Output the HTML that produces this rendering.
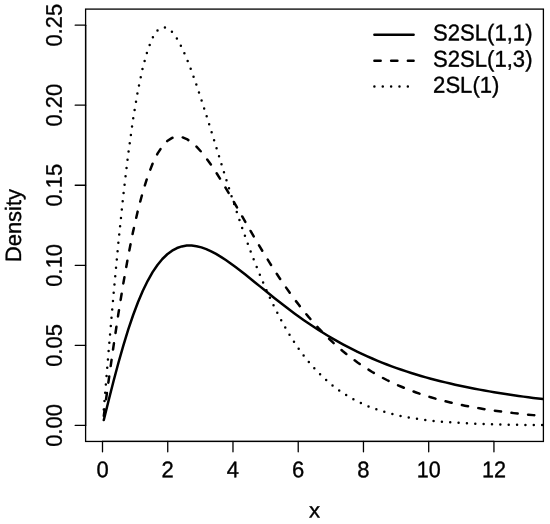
<!DOCTYPE html>
<html><head><meta charset="utf-8"><title>Density plot</title>
<style>html,body{margin:0;padding:0;background:#fff;overflow:hidden;}svg{display:block;} text{text-rendering:geometricPrecision;}</style>
</head><body>
<svg width="550" height="524" viewBox="0 0 550 524">
<rect x="0" y="0" width="550" height="524" fill="#fff"/>
<defs><clipPath id="pc"><rect x="85.6" y="9.1" width="457.80" height="432.35"/></clipPath></defs>
<g clip-path="url(#pc)" fill="none" stroke="#000" stroke-width="2.5" stroke-linecap="round" stroke-linejoin="round">
<polyline points="103.80,420.07 108.68,400.27 113.56,381.05 118.44,362.73 123.32,345.56 128.20,329.70 133.08,315.25 137.96,302.28 142.84,290.79 147.72,280.77 152.60,272.17 157.48,264.94 162.36,258.99 167.24,254.26 172.12,250.64 177.00,248.05 181.88,246.40 186.76,245.60 191.64,245.55 196.52,246.19 201.40,247.41 206.28,249.16 211.16,251.36 216.04,253.94 220.92,256.85 225.80,260.04 230.68,263.44 235.56,267.03 240.44,270.75 245.32,274.58 250.20,278.47 255.08,282.41 259.96,286.37 264.84,290.33 269.72,294.26 274.60,298.16 279.48,302.01 284.36,305.79 289.24,309.50 294.12,313.14 299.00,316.69 303.88,320.15 308.76,323.51 313.64,326.78 318.52,329.96 323.40,333.03 328.28,336.00 333.16,338.88 338.04,341.66 342.92,344.34 347.80,346.93 352.68,349.42 357.56,351.82 362.44,354.14 367.32,356.36 372.20,358.51 377.08,360.57 381.96,362.56 386.84,364.47 391.72,366.30 396.60,368.07 401.48,369.76 406.36,371.40 411.24,372.97 416.12,374.48 421.00,375.93 425.88,377.33 430.76,378.67 435.64,379.96 440.52,381.21 445.40,382.41 450.28,383.56 455.16,384.67 460.04,385.74 464.92,386.77 469.80,387.76 474.68,388.72 479.56,389.64 484.44,390.53 489.32,391.39 494.20,392.21 499.08,393.01 503.96,393.79 508.84,394.53 513.72,395.25 518.60,395.95 523.48,396.62 528.36,397.27 533.24,397.90 538.12,398.51 543.00,399.09 547.88,399.66 552.76,400.22 557.64,400.75 562.52,401.27 567.40,401.77 572.28,402.26 577.16,402.73 582.04,403.19 586.92,403.63 591.80,404.06"/>
<polyline points="103.80,415.80 108.68,380.23 113.56,345.87 118.44,313.41 123.32,283.35 128.20,256.03 133.08,231.62 137.96,210.21 142.84,191.80 147.72,176.33 152.60,163.68 157.48,153.69 162.36,146.19 167.24,140.98 172.12,137.86 177.00,136.63 181.88,137.09 186.76,139.04 191.64,142.29 196.52,146.66 201.40,152.00 206.28,158.14 211.16,164.95 216.04,172.29 220.92,180.05 225.80,188.13 230.68,196.43 235.56,204.87 240.44,213.37 245.32,221.88 250.20,230.34 255.08,238.71 259.96,246.94 264.84,255.00 269.72,262.87 274.60,270.53 279.48,277.95 284.36,285.13 289.24,292.05 294.12,298.71 299.00,305.11 303.88,311.24 308.76,317.12 313.64,322.72 318.52,328.08 323.40,333.18 328.28,338.03 333.16,342.65 338.04,347.04 342.92,351.20 347.80,355.15 352.68,358.89 357.56,362.43 362.44,365.78 367.32,368.96 372.20,371.96 377.08,374.79 381.96,377.47 386.84,380.00 391.72,382.39 396.60,384.64 401.48,386.77 406.36,388.78 411.24,390.68 416.12,392.47 421.00,394.15 425.88,395.75 430.76,397.25 435.64,398.67 440.52,400.01 445.40,401.27 450.28,402.46 455.16,403.59 460.04,404.65 464.92,405.66 469.80,406.60 474.68,407.50 479.56,408.35 484.44,409.15 489.32,409.90 494.20,410.62 499.08,411.30 503.96,411.94 508.84,412.54 513.72,413.12 518.60,413.66 523.48,414.18 528.36,414.67 533.24,415.13 538.12,415.57 543.00,415.99 547.88,416.38 552.76,416.76 557.64,417.11 562.52,417.45 567.40,417.78 572.28,418.08 577.16,418.37 582.04,418.65 586.92,418.92 591.80,419.17" stroke-dasharray="6.27 10.46"/>
<polyline points="103.80,409.40 108.68,350.34 113.56,294.03 118.44,241.97 123.32,195.13 128.20,154.11 133.08,119.15 137.96,90.27 142.84,67.30 147.72,49.94 152.60,37.79 157.48,30.39 162.36,27.26 167.24,27.91 172.12,31.84 177.00,38.58 181.88,47.68 186.76,58.72 191.64,71.31 196.52,85.11 201.40,99.80 206.28,115.11 211.16,130.79 216.04,146.63 220.92,162.46 225.80,178.12 230.68,193.49 235.56,208.46 240.44,222.95 245.32,236.91 250.20,250.28 255.08,263.03 259.96,275.14 264.84,286.59 269.72,297.39 274.60,307.55 279.48,317.06 284.36,325.96 289.24,334.25 294.12,341.97 299.00,349.13 303.88,355.76 308.76,361.89 313.64,367.54 318.52,372.75 323.40,377.54 328.28,381.94 333.16,385.97 338.04,389.66 342.92,393.04 347.80,396.12 352.68,398.93 357.56,401.49 362.44,403.82 367.32,405.93 372.20,407.86 377.08,409.60 381.96,411.18 386.84,412.61 391.72,413.90 396.60,415.07 401.48,416.13 406.36,417.08 411.24,417.94 416.12,418.72 421.00,419.41 425.88,420.04 430.76,420.60 435.64,421.11 440.52,421.57 445.40,421.97 450.28,422.34 455.16,422.67 460.04,422.96 464.92,423.23 469.80,423.46 474.68,423.67 479.56,423.86 484.44,424.03 489.32,424.18 494.20,424.31 499.08,424.43 503.96,424.54 508.84,424.64 513.72,424.72 518.60,424.80 523.48,424.87 528.36,424.93 533.24,424.98 538.12,425.03 543.00,425.07 547.88,425.11 552.76,425.14 557.64,425.17 562.52,425.20 567.40,425.22 572.28,425.24 577.16,425.26 582.04,425.27 586.92,425.29 591.80,425.30" stroke-dasharray="0 8.36"/>
</g>
<g fill="none" stroke="#000" stroke-width="1.3" stroke-linecap="round">
<rect x="85.6" y="9.1" width="457.80" height="432.35"/>

<line x1="102.50" y1="441.45" x2="102.50" y2="451.85"/>
<line x1="167.74" y1="441.45" x2="167.74" y2="451.85"/>
<line x1="232.98" y1="441.45" x2="232.98" y2="451.85"/>
<line x1="298.22" y1="441.45" x2="298.22" y2="451.85"/>
<line x1="363.46" y1="441.45" x2="363.46" y2="451.85"/>
<line x1="428.70" y1="441.45" x2="428.70" y2="451.85"/>
<line x1="493.94" y1="441.45" x2="493.94" y2="451.85"/>
<line x1="102.50" y1="441.45" x2="493.94" y2="441.45"/>
<line x1="75.20" y1="425.40" x2="85.6" y2="425.40"/>
<line x1="75.20" y1="345.35" x2="85.6" y2="345.35"/>
<line x1="75.20" y1="265.30" x2="85.6" y2="265.30"/>
<line x1="75.20" y1="185.25" x2="85.6" y2="185.25"/>
<line x1="75.20" y1="105.20" x2="85.6" y2="105.20"/>
<line x1="75.20" y1="25.15" x2="85.6" y2="25.15"/>
<line x1="85.6" y1="425.40" x2="85.6" y2="25.15"/>
</g>
<g font-family="'Liberation Sans', Arial, Helvetica, sans-serif" fill="#000" stroke="#000" stroke-width="0.35" stroke-linejoin="round">
<text transform="translate(102.50,477.25) rotate(0.05) scale(1,1.025)" font-size="22.0" text-anchor="middle">0</text>
<text transform="translate(167.74,477.25) rotate(0.05) scale(1,1.025)" font-size="22.0" text-anchor="middle">2</text>
<text transform="translate(232.98,477.25) rotate(0.05) scale(1,1.025)" font-size="22.0" text-anchor="middle">4</text>
<text transform="translate(298.22,477.25) rotate(0.05) scale(1,1.025)" font-size="22.0" text-anchor="middle">6</text>
<text transform="translate(363.46,477.25) rotate(0.05) scale(1,1.025)" font-size="22.0" text-anchor="middle">8</text>
<text transform="translate(428.70,477.25) rotate(0.05) scale(1,1.025)" font-size="22.0" text-anchor="middle" textLength="24.00" lengthAdjust="spacingAndGlyphs">10</text>
<text transform="translate(493.94,477.25) rotate(0.05) scale(1,1.025)" font-size="22.0" text-anchor="middle" textLength="24.00" lengthAdjust="spacingAndGlyphs">12</text>
<text transform="translate(61.80,425.40) rotate(-89.95) scale(1,1.025)" font-size="22.0" text-anchor="middle" textLength="42.70" lengthAdjust="spacingAndGlyphs">0.00</text>
<text transform="translate(61.80,345.35) rotate(-89.95) scale(1,1.025)" font-size="22.0" text-anchor="middle" textLength="42.70" lengthAdjust="spacingAndGlyphs">0.05</text>
<text transform="translate(61.80,265.30) rotate(-89.95) scale(1,1.025)" font-size="22.0" text-anchor="middle" textLength="42.70" lengthAdjust="spacingAndGlyphs">0.10</text>
<text transform="translate(61.80,185.25) rotate(-89.95) scale(1,1.025)" font-size="22.0" text-anchor="middle" textLength="42.70" lengthAdjust="spacingAndGlyphs">0.15</text>
<text transform="translate(61.80,105.20) rotate(-89.95) scale(1,1.025)" font-size="22.0" text-anchor="middle" textLength="42.70" lengthAdjust="spacingAndGlyphs">0.20</text>
<text transform="translate(61.80,25.15) rotate(-89.95) scale(1,1.025)" font-size="22.0" text-anchor="middle" textLength="42.70" lengthAdjust="spacingAndGlyphs">0.25</text>
<text transform="translate(314.60,517.45) rotate(0.05)" font-size="21.5" text-anchor="middle" textLength="11.10" lengthAdjust="spacingAndGlyphs">x</text>
<text transform="translate(20.95,225.60) rotate(-89.95) scale(1,1.035)" font-size="21.5" text-anchor="middle" textLength="73.00" lengthAdjust="spacingAndGlyphs">Density</text>
</g>
<g fill="none" stroke="#000" stroke-width="2.5" stroke-linecap="round">
<line x1="374.4" y1="34.8" x2="413.6" y2="34.8"/>
<line x1="374.4" y1="60.8" x2="413.6" y2="60.8" stroke-dasharray="6.27 10.46"/>
<line x1="374.4" y1="86.4" x2="413.6" y2="86.4" stroke-dasharray="0 8.36"/>
</g>
<g font-family="'Liberation Sans', Arial, Helvetica, sans-serif" fill="#000" stroke="#000" stroke-width="0.35" stroke-linejoin="round">
<text transform="translate(433.10,40.40) rotate(0.05) scale(1,1.07)" font-size="21.5" text-anchor="start" textLength="99.40" lengthAdjust="spacingAndGlyphs">S2SL(1,1)</text>
<text transform="translate(433.10,66.75) rotate(0.05) scale(1,1.07)" font-size="21.5" text-anchor="start" textLength="99.40" lengthAdjust="spacingAndGlyphs">S2SL(1,3)</text>
<text transform="translate(433.10,92.80) rotate(0.05) scale(1,1.07)" font-size="21.5" text-anchor="start" textLength="66.30" lengthAdjust="spacingAndGlyphs">2SL(1)</text>
</g>
</svg>
</body></html>
